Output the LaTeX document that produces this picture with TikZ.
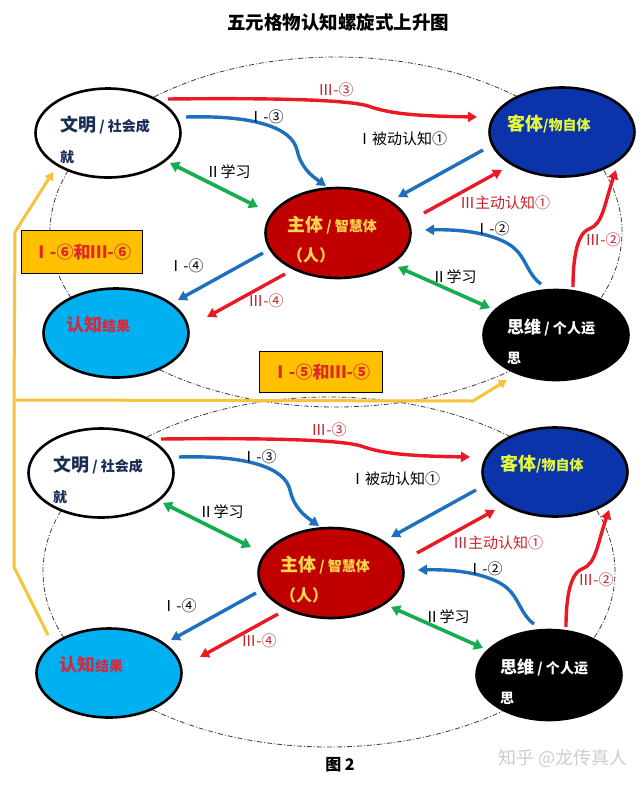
\documentclass[tikz,border=0pt]{standalone}
\usepackage{fontspec}
\setmainfont{Noto Sans CJK SC}
\usetikzlibrary{arrows.meta,shapes.geometric}
\newcommand\myfs[1]{\fontsize{#1}{#1}\selectfont}
\definecolor{wmnavy}{RGB}{25,45,85}
\definecolor{ktblue}{RGB}{12,52,170}
\definecolor{ktyellow}{RGB}{228,248,60}
\definecolor{ztred}{RGB}{192,0,0}
\definecolor{ztyellow}{RGB}{252,212,75}
\definecolor{jgcyan}{RGB}{0,176,240}
\definecolor{jgred}{RGB}{215,40,60}
\definecolor{ared}{RGB}{235,25,35}
\definecolor{ablue}{RGB}{30,112,188}
\definecolor{agreen}{RGB}{22,172,80}
\definecolor{lred}{RGB}{200,35,45}
\definecolor{yline}{RGB}{245,195,60}
\definecolor{boxorange}{RGB}{255,192,0}
\definecolor{boxred}{RGB}{222,40,40}
\definecolor{ringgray}{RGB}{60,60,60}
\definecolor{wmgray}{RGB}{205,205,205}
\tikzset{
  ring/.style={ellipse, draw=ringgray, line width=0.8pt, dash pattern=on 5pt off 2pt on 1pt off 2pt, minimum width=572pt, minimum height=350pt, inner sep=0pt},
  ell/.style={ellipse, draw=black, line width=2.6pt, inner sep=0pt, minimum width=145pt, minimum height=89pt},
  txt/.style={anchor=west, inner sep=0pt, font=\bfseries},
  arr/.style={line width=3.4pt, -{Triangle[length=9pt,width=10pt]}},
  darr/.style={line width=3.6pt, draw=agreen, {Triangle[length=9pt,width=11pt]}-{Triangle[length=9pt,width=11pt]}},
  lbl/.style={inner sep=0pt, font=\myfs{15}},
  yl/.style={draw=yline, line width=3pt, line join=round},
  box/.style={rectangle, draw=black, line width=0.6pt, fill=boxorange, text=boxred, font=\bfseries\myfs{17}, inner sep=0pt}
}
\newcommand\onecycle{%
  \node[ring] (ring) at (336,232) {};
  \node[ell, fill=white] (wm) at (108,133) {};
  \node[ell, fill=ktblue] (kt) at (562,132) {};
  \node[ell, fill=ztred, minimum height=90pt] (zt) at (338,233) {};
  \node[ell, fill=jgcyan] (jg) at (116,333) {};
  \node[ell, fill=black, minimum height=90pt] (sw) at (556,335) {};
  \node[txt, text=wmnavy] (wmt) at (60,125) {\myfs{18}文明\myfs{14} / 社会成};
  \node[txt, text=wmnavy] (wmt2) at (60,157) {\myfs{14}就};
  \node[txt, text=ktyellow] (ktt) at (507,124) {\myfs{18}客体\myfs{14}/物自体};
  \node[txt, text=ztyellow] (ztt) at (287,225) {\myfs{18}主体\myfs{14} / 智慧体};
  \node[txt, text=ztyellow] (ztt2) at (287,255) {\myfs{16}（人）};
  \node[txt, text=jgred] (jgt) at (66,325) {\myfs{18}认知\myfs{14}结果};
  \node[txt, text=white] (swt) at (507,327) {\myfs{17}思维\myfs{14} / 个人运};
  \node[txt, text=white] (swt2) at (507,358) {\myfs{14}思};
  % arrows
  \coordinate (r3a) at (168,99); \coordinate (r3b) at (477,117);
  \draw[arr, draw=ared] (r3a) .. controls (260,98) and (345,99) .. (368,106)
      .. controls (388,113) and (410,116) .. (r3b);
  \coordinate (b3a) at (186,117); \coordinate (b3b) at (326,186);
  \draw[arr, draw=ablue] (b3a) .. controls (255,115) and (292,128) .. (297,150)
      .. controls (301,168) and (312,176) .. (b3b);
  \coordinate (b1a) at (483,150); \coordinate (b1b) at (398,197);
  \draw[arr, draw=ablue] (b1a) -- (b1b);
  \coordinate (g1a) at (170,163); \coordinate (g1b) at (258,207);
  \draw[darr] (g1a) -- (g1b);
  \coordinate (r1a) at (424,213); \coordinate (r1b) at (502,170);
  \draw[arr, draw=ared] (r1a) -- (r1b);
  \coordinate (b2a) at (541,284); \coordinate (b2b) at (425,230);
  \draw[arr, draw=ablue] (b2a) .. controls (528,275) and (526,258) .. (514,248)
      .. controls (500,236) and (470,229) .. (b2b);
  \coordinate (r2a) at (573,287); \coordinate (r2b) at (616,170);
  \draw[arr, draw=ared] (r2a) .. controls (573,262) and (576,234) .. (589,229)
      .. controls (603,224) and (604,205) .. (r2b);
  \coordinate (g2a) at (398,267); \coordinate (g2b) at (490,308);
  \draw[darr] (g2a) -- (g2b);
  \coordinate (b4a) at (263,253); \coordinate (b4b) at (178,300);
  \draw[arr, draw=ablue] (b4a) -- (b4b);
  \coordinate (r4a) at (285,274); \coordinate (r4b) at (207,317);
  \draw[arr, draw=ared] (r4a) -- (r4b);
  % labels
  \node[lbl, text=lred] (l1) at (336,90) {Ⅲ-③};
  \node[lbl] (l2) at (266,117) {Ⅰ-③};
  \node[lbl] (l3) at (402,139) {Ⅰ被动认知①};
  \node[lbl] (l4) at (228,172) {Ⅱ学习};
  \node[lbl, text=lred] (l5) at (505,203) {Ⅲ主动认知①};
  \node[lbl] (l6) at (492,229) {Ⅰ-②};
  \node[lbl, text=lred] (l7) at (603,240) {Ⅲ-②};
  \node[lbl] (l8) at (454,277) {Ⅱ学习};
  \node[lbl] (l9) at (186,266) {Ⅰ-④};
  \node[lbl, text=lred] (l10) at (266,301) {Ⅲ-④};
}
\begin{document}
\begin{tikzpicture}[x=1pt,y=-1pt]
  \fill[white] (0,0) rectangle (642,785);
  \useasboundingbox (0,0) rectangle (642,785);
  \node[font=\bfseries\myfs{18.5}] (title) at (338,22) {五元格物认知螺旋式上升图};
  \onecycle
  \begin{scope}[shift={(-7,340)}, name prefix=b-]
    \onecycle
  \end{scope}
  % yellow connectors
  \coordinate (ys) at (48,635);
  \coordinate (yk) at (14,567);
  \coordinate (yj) at (14,400);
  \coordinate (yu) at (15,232);
  \coordinate (ye1) at (53,172);
  \coordinate (yh) at (473,401);
  \coordinate (ye2) at (507,380);
  \draw[yl] (ys) -- (yk) -- (yj);
  \draw[yl, -{Triangle[length=8pt,width=9pt]}] (yj) -- (yu) -- (ye1);
  \draw[yl, -{Triangle[length=8pt,width=9pt]}] (yj) -- (yh) -- (ye2);
  \node[box, minimum width=121pt, minimum height=43pt] (bx6) at (82,252) {Ⅰ-⑥和Ⅲ-⑥};
  \node[box, minimum width=123pt, minimum height=41pt] (bx5) at (321,372) {Ⅰ-⑤和Ⅲ-⑤};
  \node[font=\bfseries\myfs{16}] (fig) at (340,765) {图 2};
  \node[font=\myfs{18}, text=wmgray] (wmk) at (563,758) {知乎 @龙传真人};
\end{tikzpicture}
\end{document}
